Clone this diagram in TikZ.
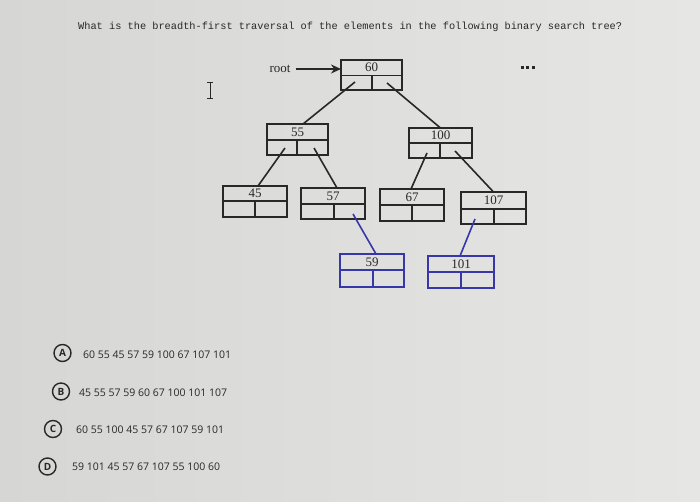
\documentclass[tikz,border=0pt]{standalone}
\usepackage{fontspec}
\setmainfont{Liberation Serif}
\newfontfamily\qmono{Liberation Mono}
\newfontfamily\optsans{Open Sans}
\usetikzlibrary{arrows.meta}
\definecolor{bgL}{RGB}{214,214,213}
\definecolor{bgR}{RGB}{230,230,229}
\definecolor{ink}{RGB}{40,40,40}
\definecolor{blueink}{RGB}{55,55,170}
\tikzset{
  bstbox/.style={draw=ink, line width=1.8pt, minimum width=#1, inner sep=0pt, outer sep=0pt},
  numlabel/.style={font=\fontsize{13}{13}\selectfont, text=ink, inner sep=0pt},
  edge/.style={draw=ink, line width=1.6pt},
  blueedge/.style={draw=blueink, line width=1.6pt},
  optcircle/.style={circle, draw=ink, line width=1.4pt, minimum size=17pt, inner sep=0pt, font=\optsans\bfseries\fontsize{10}{10}\selectfont, text=ink},
  opttext/.style={anchor=west, inner sep=0pt, font=\optsans\fontsize{10.5}{11}\selectfont, text=ink}
}
% name, cx, cy, w, h, midy, vx, labely, color
\newcommand{\bstcell}[9]{%
  \node[bstbox=#4pt, minimum height=#5pt, draw=#9] (#1) at (#2,#3) {};
  \draw[line width=1.8pt, draw=#9] (#1.west |- 0,#6) -- (#1.east |- 0,#6);
  \draw[line width=1.8pt, draw=#9] (#7,#6) -- (#7,#6 |- #1.south);
  \node[numlabel] (#1lab) at (#2,#8) {#1};
}
\begin{document}
\begin{tikzpicture}[x=1pt,y=-1pt]
\shade[left color=bgL, right color=bgR] (0,0) rectangle (700,502);
\useasboundingbox (0,0) rectangle (700,502);

\node[anchor=west, inner sep=0pt, text=ink, font=\qmono\fontsize{10.3}{11}\selectfont] (question) at (78,27)
  {What is the breadth-first traversal of the elements in the following binary search tree?};

% cursor
\draw[ink, line width=1pt] (210,83) -- (210,98) (207,82.5) -- (213,82.5) (207,98.5) -- (213,98.5);

% dots
\foreach \xx in {522,527.5,533} \fill[ink] (\xx-1.5,66) rectangle (\xx+1.5,69.5);

% nodes
\bstcell{60}{371.5}{75}{61}{30}{75.5}{372}{67.5}{ink}
\bstcell{55}{297.5}{139.5}{61}{31}{140}{297}{132}{ink}
\bstcell{100}{440.5}{143}{63}{30}{143}{440}{135.5}{ink}
\bstcell{45}{255}{201.5}{64}{31}{201}{255}{193.5}{ink}
\bstcell{57}{333}{203.5}{64}{31}{204}{334}{196}{ink}
\bstcell{67}{412}{205}{64}{32}{205}{412}{197}{ink}
\bstcell{107}{493.5}{208}{65}{32}{209}{494}{200.5}{ink}
\bstcell{59}{372}{270.5}{64}{33}{270}{373}{262}{blueink}
\bstcell{101}{461}{272}{66}{32}{272}{461}{264}{blueink}

% root
\node[numlabel] (root) at (280,69) {root};
\draw[edge, -{Stealth[length=10pt,width=9pt]}] (root.east) ++(5,0) coordinate (rootstart) (rootstart) -- (60.west |- root.east);

% edge start points inside cells
\coordinate (c60L) at (355,82);
\coordinate (c60R) at (387,83);
\coordinate (c55L) at (285,148);
\coordinate (c55R) at (314,148);
\coordinate (c100L) at (427,153);
\coordinate (c100R) at (455,151);
\coordinate (c57R) at (353,214);
\coordinate (c107L) at (475,219);

\draw[edge] (c60L) -- ([xshift=5.5pt]55.north);
\draw[edge] (c60R) -- (100.north);
\draw[edge] (c55L) -- ([xshift=3pt]45.north);
\draw[edge] (c55R) -- ([xshift=4pt]57.north);
\draw[edge] (c100L) -- ([xshift=-1pt]67.north);
\draw[edge] (c100R) -- (107.north);
\draw[blueedge] (c57R) -- ([xshift=4pt]59.north);
\draw[blueedge] (c107L) -- ([xshift=-1pt]101.north);

% options
\node[optcircle] (oA) at (62.5,353) {A};
\node[opttext] (tA) at (83,355) {60 55 45 57 59 100 67 107 101};
\node[optcircle] (oB) at (61,391.5) {B};
\node[opttext] (tB) at (79,393) {45 55 57 59 60 67 100 101 107};
\node[optcircle] (oC) at (53,429) {C};
\node[opttext] (tC) at (76,430) {60 55 100 45 57 67 107 59 101};
\node[optcircle] (oD) at (47.5,466.5) {D};
\node[opttext] (tD) at (72,467) {59 101 45 57 67 107 55 100 60};
\end{tikzpicture}
\end{document}
